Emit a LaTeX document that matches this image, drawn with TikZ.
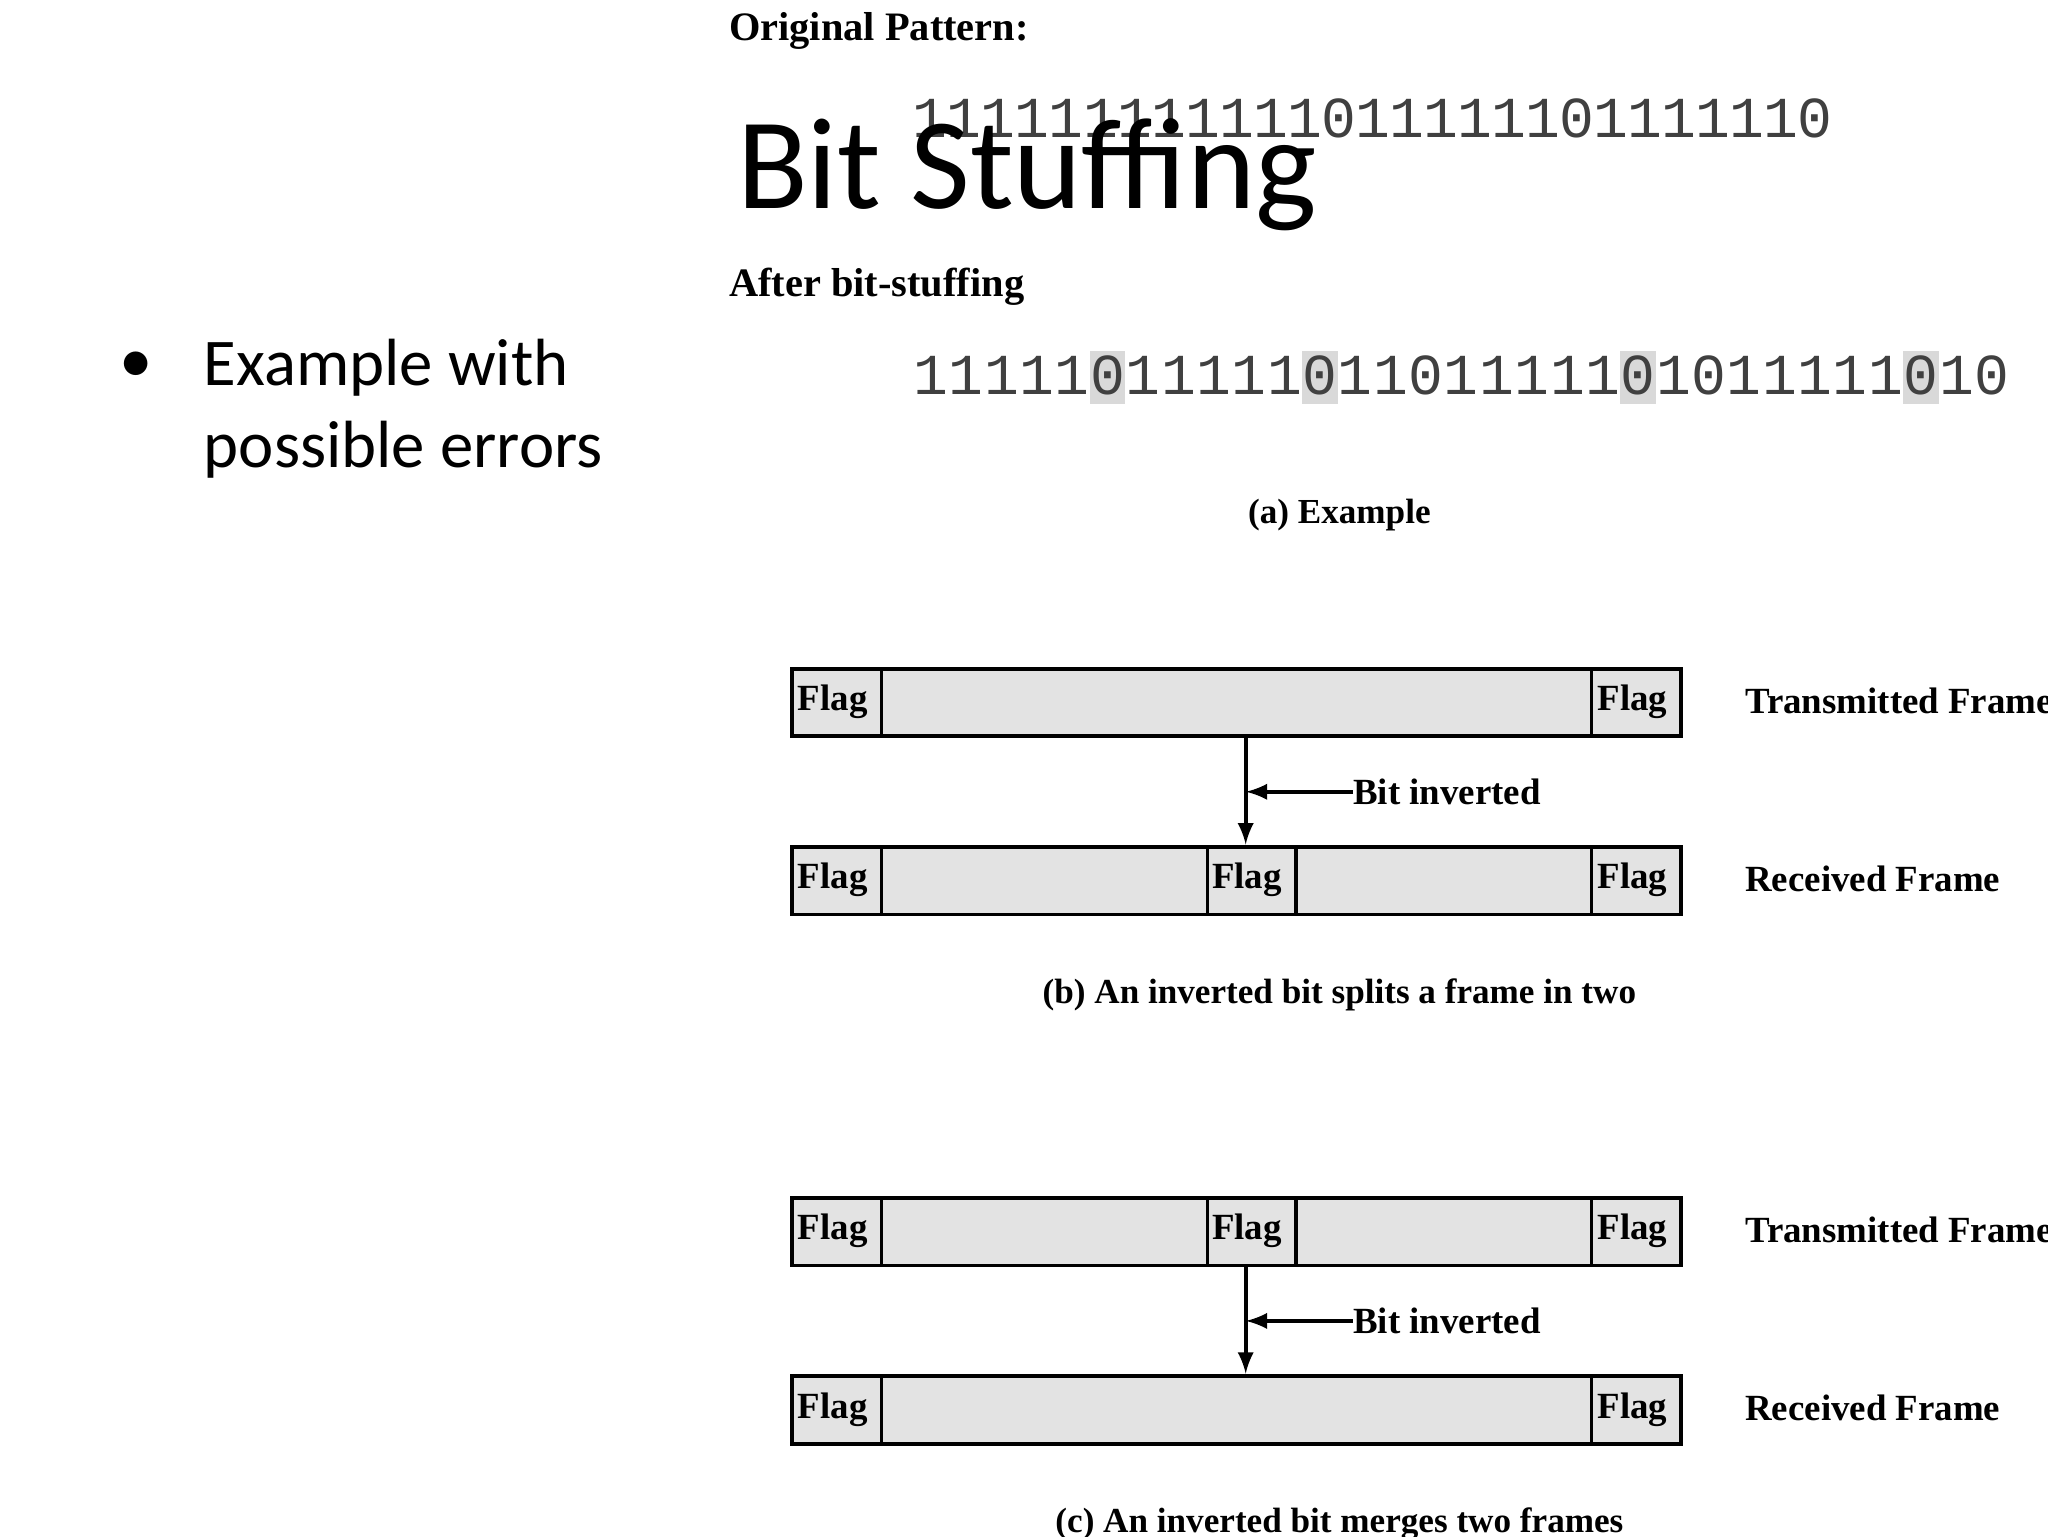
\documentclass[tikz,border=0pt]{standalone}
\usepackage{fontspec}
\setmainfont{Liberation Serif}
\newfontfamily\calfnt{Carlito}
\newfontfamily\monofnt{Liberation Mono}
\begin{document}
\begin{tikzpicture}[x=0.0132cm,y=-0.0132cm,
  lbl/.style={font=\fontsize{10.5}{12}\selectfont\bfseries,anchor=west,inner sep=0pt},
  captxt/.style={font=\fontsize{10}{12}\selectfont\bfseries,inner sep=0pt},
  fr/.style={draw,line width=1.1pt,fill=gray!22},
  flagtxt/.style={font=\fontsize{10.5}{12}\selectfont\bfseries,inner sep=0pt},
  dig/.style={font=\monofnt\fontsize{16.5}{18}\selectfont,text=black!75,inner sep=0pt}]
\useasboundingbox (0,0) rectangle (1552,1164);
\node[anchor=base west,inner sep=0pt,font=\fontsize{11.5}{13}\selectfont\bfseries] (orig) at (552,31) {Original Pattern:};
\node[anchor=base west,inner sep=0pt,font=\fontsize{11.5}{13}\selectfont\bfseries] (after) at (552,225) {After bit-stuffing};
\foreach \c [count=\i] in {1,1,1,1,1,1,1,1,1,1,1,1,0,1,1,1,1,1,1,0,1,1,1,1,1,1,0}
  \node[dig,anchor=base] at (692+\i*25.8-12.9,104) {\c};
\foreach \i in {6,12,21,29}
  \fill[gray!30] (692+\i*26.8-26.8,266) rectangle (692+\i*26.8,306);
\foreach \c [count=\i] in {1,1,1,1,1,0,1,1,1,1,1,0,1,1,0,1,1,1,1,1,0,1,0,1,1,1,1,1,0,1,0}
  \node[dig,anchor=base] at (692+\i*26.8-13.4,299) {\c};
\node[anchor=base west,inner sep=0pt,font=\calfnt\fontsize{37}{40}\selectfont] (title) at (558,158) {Bit Stuffing};
\node[anchor=base west,inner sep=0pt,font=\calfnt\fontsize{19}{23}\selectfont] (b1) at (154,292) {Example with};
\node[anchor=base west,inner sep=0pt,font=\calfnt\fontsize{19}{23}\selectfont] (b2) at (154,354) {possible errors};
\node[anchor=base,inner sep=0pt,font=\calfnt\fontsize{19}{23}\selectfont] (bul) at (103,290) {•};
\node[captxt] (capa) at (1015,390) {(a) Example};
\newcommand{\frm}[3]{%
  \draw[fr] (600,#1) rectangle (1274,#1+51);
  \draw[line width=1.1pt] (668,#1) -- (668,#1+51) (1206,#1) -- (1206,#1+51);
  \node[flagtxt] (#2l) at (631,#1+25) {Flag};
  \node[flagtxt] (#2r) at (1237,#1+25) {Flag};
  \ifx#31
    \draw[line width=1.1pt] (915,#1) -- (915,#1+51) (982,#1) -- (982,#1+51);
    \node[flagtxt] (#2m) at (945,#1+25) {Flag};
  \fi}
\frm{507}{tb}{0}
\frm{642}{rb}{1}
\frm{908}{tc}{1}
\frm{1043}{rc}{0}
\foreach \y/\t in {531/Transmitted Frame,666/Received Frame,932/Transmitted Frame,1067/Received Frame}
  \node[lbl] at (1322,\y) {\t};
\foreach \y [count=\k] in {558,959}{
  \coordinate (s\k) at (944,\y);
  \coordinate (e\k) at (944,\y+82);
  \coordinate (m\k) at (944,\y+42);
  \draw[line width=1.1pt,-latex] (s\k) -- (e\k);
  \node[lbl] (bi\k) at (1025,\y+42) {Bit inverted};
  \draw[line width=1.1pt,-latex] (bi\k.west) -- (m\k);
}
\node[captxt] (capb) at (1015,754) {(b) An inverted bit splits a frame in two};
\node[captxt] (capc) at (1015,1155) {(c) An inverted bit merges two frames};
\end{tikzpicture}
\end{document}
